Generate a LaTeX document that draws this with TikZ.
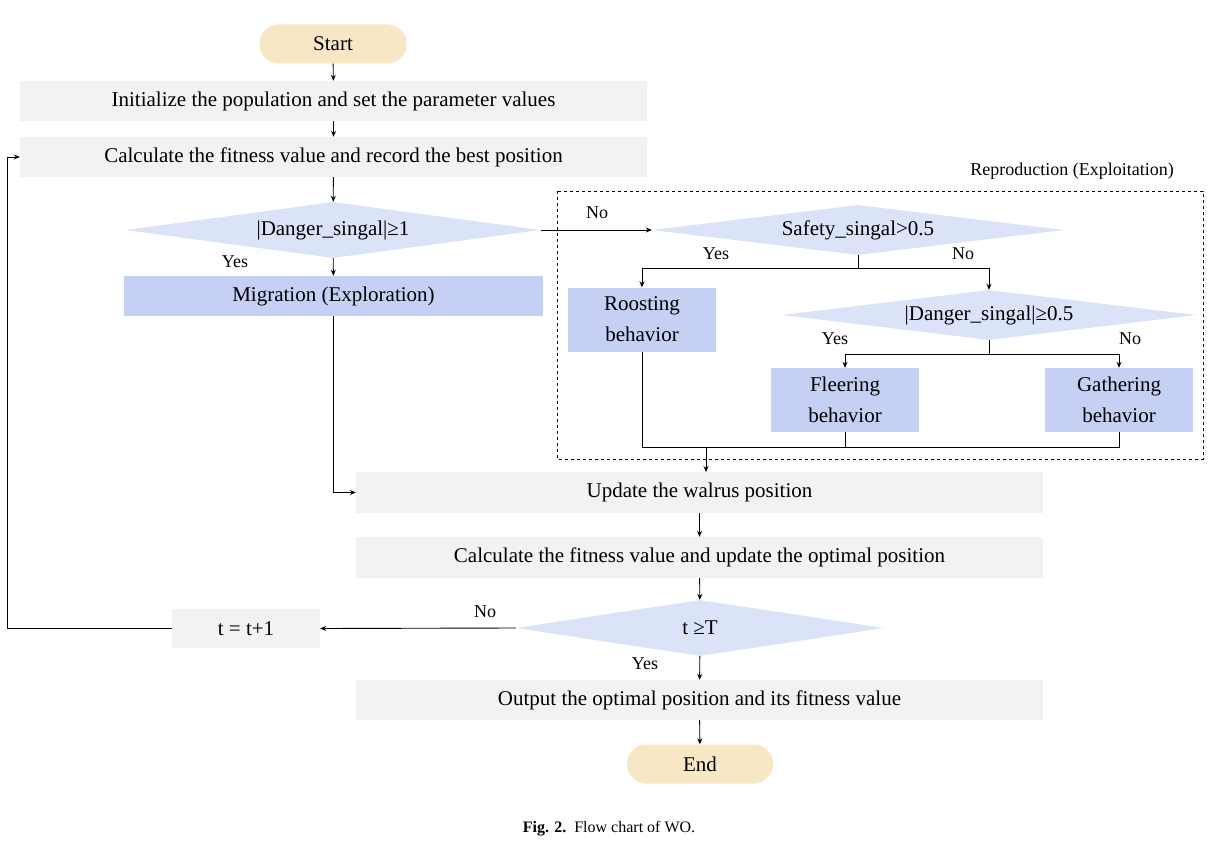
\documentclass[tikz,border=0pt]{standalone}
\usepackage{fontspec}
\setmainfont{Liberation Serif}
\usetikzlibrary{shapes.geometric,arrows.meta}
\definecolor{beige}{HTML}{F8E7C5}
\definecolor{gry}{HTML}{F2F2F2}
\definecolor{dia}{HTML}{DAE3F8}
\definecolor{blu}{HTML}{C6D0F4}
\begin{document}
\begin{tikzpicture}[x=1pt,y=-1pt,
  every node/.style={font=\fontsize{21}{25}\selectfont, inner sep=0pt},
  box/.style={draw=none, fill=gry, minimum width=#1, minimum height=40},
  bbox/.style={draw=none, fill=blu, minimum width=148, minimum height=64, align=center, font=\fontsize{21}{31}\selectfont},
  term/.style={fill=beige, rounded corners=19, minimum width=147, minimum height=39},
  dmd/.style={diamond, fill=dia, aspect=#1, minimum width=10},
  lbl/.style={font=\fontsize{18}{21}\selectfont},
  ln/.style={line width=0.9pt},
  ar/.style={ln, -{Stealth[length=6pt,width=5pt]}}]
\useasboundingbox (0,0) rectangle (1218,851);
\node[term] (start) at (333,44) {Start};
\node[box=627] (init) at (333.5,101) {Initialize the population and set the parameter values};
\node[box=627] (calc) at (333.5,157) {Calculate the fitness value and record the best position};
\node[dmd=7.4, minimum width=415, minimum height=56] (d1) at (333,230) {};
\node at (333,230) {|Danger\_singal|≥1};
\node[bbox, minimum width=419, minimum height=40] (mig) at (333.5,296) {Migration (Exploration)};
\draw[dashed, ln] (557,191) rectangle (1203,459);
\node[lbl] at (1072,171) {Reproduction (Exploitation)};
\node[dmd=8.2, minimum width=412, minimum height=50] (d2) at (858,230) {};
\node at (858,230) {Safety\_singal>0.5};
\node[bbox] (roost) at (642,319.5) {Roosting\\behavior};
\node[dmd=8.3, minimum width=414, minimum height=50] (d3) at (989,315) {};
\node at (989,315) {|Danger\_singal|≥0.5};
\node[bbox] (flee) at (845,400) {Fleering\\behavior};
\node[bbox] (gath) at (1119,400) {Gathering\\behavior};
\node[box=687, minimum height=41] (upd) at (699.5,492.5) {Update the walrus position};
\node[box=687, minimum height=41] (calc2) at (699.5,557.5) {Calculate the fitness value and update the optimal position};
\node[dmd=6.6, minimum width=368, minimum height=56] (d4) at (700,628) {};
\node at (700,628) {t ≥T};
\node[box=148, minimum height=39] (tt) at (246,628.5) {t = t+1};
\node[box=687, minimum height=40] (out) at (699.5,700) {Output the optimal position and its fitness value};
\node[term, minimum width=146] (end) at (700,764) {End};
\node[font=\fontsize{16}{19}\selectfont] at (609,829) {\textbf{Fig. 2.}\ \ Flow chart of WO.};
% labels
\node[lbl] at (235,262) {Yes};
\node[lbl] at (597,213) {No};
\node[lbl] at (716,254) {Yes};
\node[lbl] at (963,254) {No};
\node[lbl] at (835,339) {Yes};
\node[lbl] at (1130,339) {No};
\node[lbl] at (485,612) {No};
\node[lbl] at (645,664) {Yes};
% connectors
\draw[ar] (start) -- (init);
\draw[ar] (init) -- (calc);
\draw[ar] (calc) -- (d1);
\draw[ar] (d1) -- (mig);
\draw[ar] (d1.east) -- (d2.west);
\draw[ln] (d2.south) -- (858,268);
\draw[ar] (858,268) -| (roost.north);
\draw[ar] (858,268) -| (d3.south |- d3.north);
\draw[ln] (d3.south) -- (989,354);
\draw[ar] (989,354) -| (flee.north);
\draw[ar] (989,354) -| (gath.north);
\draw[ln] (roost.south) |- (706,447);
\draw[ln] (gath.south) |- (706,447);
\draw[ln] (flee.south) -- (845,447);
\draw[ar] (706,447) -- (706,472);
\draw[ar] (mig.south) |- (upd.west);
\draw[ar] (upd) -- (calc2);
\draw[ar] (calc2) -- (d4);
\draw[ar] (d4.west) -- (tt.east);
\draw[ar] (tt.west) -- (7,628.5) |- (calc.west);
\draw[ar] (d4) -- (out);
\draw[ar] (out) -- (end);
\end{tikzpicture}
\end{document}
